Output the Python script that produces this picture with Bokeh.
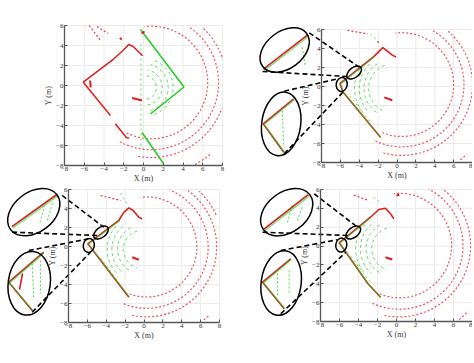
import math
from bokeh.plotting import figure
from bokeh.models import LinearAxis, FixedTicker
from bokeh.layouts import column, row
from bokeh.embed import file_html
from bokeh.resources import INLINE

nan = float("nan")

X_TICKS = [-8, -6, -4, -2, 0, 2, 4, 6, 8]
Y_TICKS = [-8, -6, -4, -2, 0, 2, 4, 6]
X_LABEL = "X (m)"
Y_LABEL = "Y (m)"

# ---------------- Panel 1 (scan before matching) ----------------
P1_RED_X = [-0.1, -0.3, -1.05, -1.5, -2.0, -3.0, -6.1, -3.35, nan, -2.85, -1.72, -1.45]
P1_RED_Y = [2.97, 3.17, 3.9, 4.1, 3.57, 2.67, 0.33, -3.0, nan, -3.83, -5.23, -5.25]
P1_GREEN_X = [-0.3, 4.1, 0.7, nan, -0.15, 2.05]
P1_GREEN_Y = [5.6, -0.15, -2.85, nan, -4.7, -7.85]
P1_RSEG_X0 = [-5.4, -1.15, -2.4, -0.2]
P1_RSEG_Y0 = [0.5, -1.25, 4.75, 5.2]
P1_RSEG_X1 = [-5.35, -0.15, -2.2, 0.1]
P1_RSEG_Y1 = [-0.2, -1.5, 4.6, 5.4]
P1_RDOT_X0 = [-5.5, -4.7]
P1_RDOT_Y0 = [6.0, 5.9]
P1_RDOT_X1 = [-4.35, -3.6]
P1_RDOT_Y1 = [4.5, 5.2]
P1_GDOT_X0 = [-0.25]
P1_GDOT_Y0 = [-6.0]
P1_GDOT_X1 = [-0.25]
P1_GDOT_Y1 = [4.5]
P1_ARC_CX = [0.8, 0.8, 0.8, 0.8, 0.8]
P1_ARC_CY = [0.3, 0.3, 0.3, 0.3, 0.3]
P1_ARC_R = [5.7, 6.8, 7.6, 7.6, 9.4]
P1_ARC_A0 = [-116, -118, -100, 20, -62]
P1_ARC_A1 = [97, 56, -20, 47, -50]
P1_GARC_CX = [0.1, 0.1, 0.1, 0.1]
P1_GARC_CY = [-0.2, -0.2, -0.2, -0.2]
P1_GARC_R = [1.2, 1.8, 2.4, 2.9]
P1_GARC_A0 = [-80, -80, -75, -70]
P1_GARC_A1 = [80, 80, 75, 70]

# ---------------- Panel 2 ----------------
P2_RED_X = [-0.1, -0.5, -1.5, -1.9, -2.4, -6.05, -5.7, -3.2, -1.75]
P2_RED_Y = [3.1, 3.3, 4.1, 3.7, 3.2, 0.3, -0.6, -3.6, -5.35]
P2_GREEN_X = [-2.35, -6.0, -5.65, -3.15, -1.7]
P2_GREEN_Y = [3.15, 0.25, -0.65, -3.65, -5.4]
P2_RSEG_X0 = [-1.35]
P2_RSEG_Y0 = [-1.15]
P2_RSEG_X1 = [-0.5]
P2_RSEG_Y1 = [-1.45]
P2_RDOT_X0 = [-5.25, -2.1]
P2_RDOT_Y0 = [5.9, 4.75]
P2_RDOT_X1 = [-3.1, -1.8]
P2_RDOT_Y1 = [5.55, 4.5]
P2_GDOT_X0 = [-2.8, -5.0]
P2_GDOT_Y0 = [5.5, -1.0]
P2_GDOT_X1 = [-1.8, -2.7]
P2_GDOT_Y1 = [4.6, -3.9]
P2_ARC_CX = [0.5, 0.5, 0.5, 0.5]
P2_ARC_CY = [0.2, 0.2, 0.2, 0.2]
P2_ARC_R = [5.5, 6.6, 7.5, 10.1]
P2_ARC_A0 = [-112, -115, -105, -52]
P2_ARC_A1 = [97, 60, 50, -47]
P2_GARC_CX = [-0.4, -0.4, -0.4, -0.4]
P2_GARC_CY = [-0.2, -0.2, -0.2, -0.2]
P2_GARC_R = [2.6, 3.1, 3.6, 4.1]
P2_GARC_A0 = [110, 123, 134, 141]
P2_GARC_A1 = [250, 237, 226, 219]
P2_ELL_X = [-11.9, -12.27, -4.54, -5.86]
P2_ELL_Y = [3.84, -3.93, 1.47, 0.21]
P2_DASH_X0 = [-9.30, -14.25, -11.95, -11.95]
P2_DASH_Y0 = [5.65, 1.58, -0.49, -7.08]
P2_DASH_X1 = [-4.0, -5.25, -6.3, -5.56]
P2_DASH_Y1 = [2.03, 1.05, 0.81, -0.42]
P2_IN_RED_X = [-14.15, -9.43, nan, -10.94, -14.18, -12.0]
P2_IN_RED_Y = [1.84, 5.47, nan, -1.3, -3.93, -6.92]
P2_IN_GREEN_X = [-14.05, -9.33, nan, -10.9, -14.08, -11.9]
P2_IN_GREEN_Y = [1.69, 5.32, nan, -1.4, -4.0, -6.95]
P2_IN_GDOT_X0 = [-10.05, -12.16]
P2_IN_GDOT_Y0 = [4.14, -2.53]
P2_IN_GDOT_X1 = [-9.7, -11.99]
P2_IN_GDOT_Y1 = [2.03, -6.39]

# ---------------- Panel 3 ----------------
P3_RED_X = [-0.2, -0.55, -1.15, -1.6, -2.14, -2.67, -5.95, -1.6]
P3_RED_Y = [2.9, 3.09, 3.79, 4.07, 3.6, 2.74, 0.28, -5.34]
P3_GREEN_X = [-2.6, -5.9, -1.55]
P3_GREEN_Y = [2.7, 0.23, -5.3]
P3_RSEG_X0 = [-1.25]
P3_RSEG_Y0 = [-1.13]
P3_RSEG_X1 = [-0.55]
P3_RSEG_Y1 = [-1.4]
P3_RDOT_X0 = [-4.6]
P3_RDOT_Y0 = [5.37]
P3_RDOT_X1 = [-2.5]
P3_RDOT_Y1 = [4.84]
P3_GDOT_X0 = [-2.5, -4.6]
P3_GDOT_Y0 = [5.6, -1.2]
P3_GDOT_X1 = [-1.8, -2.6]
P3_GDOT_Y1 = [4.5, -3.9]
P3_ARC_CX = [0.3, 0.3, 0.3, 0.3, 0.3]
P3_ARC_CY = [-0.05, -0.05, -0.05, -0.05, -0.05]
P3_ARC_R = [5.3, 6.5, 7.4, 8.1, 9.8]
P3_ARC_A0 = [-110, -112, -102, 25, -52]
P3_ARC_A1 = [97, 68, 54, 47, -47]
P3_GARC_CX = [-0.2, -0.2, -0.2, -0.2]
P3_GARC_CY = [-0.3, -0.3, -0.3, -0.3]
P3_GARC_R = [2.0, 2.6, 3.2, 3.7]
P3_GARC_A0 = [105, 118, 130, 138]
P3_GARC_A1 = [255, 242, 230, 222]
P3_ELL_X = [-11.68, -12.16, -4.56, -5.85]
P3_ELL_Y = [3.61, -3.87, 1.47, 0.11]
P3_DASH_X0 = [-8.67, -13.97, -12.21, -11.85]
P3_DASH_Y0 = [5.37, 1.51, -0.42, -6.92]
P3_DASH_X1 = [-4.26, -4.96, -5.85, -5.67]
P3_DASH_Y1 = [2.03, 1.16, 0.81, -0.6]
P3_IN_RED_X = [-14.0, -9.2, nan, -10.62, -14.33, -11.85, nan, -13.19, -12.87]
P3_IN_RED_Y = [2.1, 5.5, nan, -0.6, -3.76, -6.74, nan, -4.53, -2.84]
P3_IN_GREEN_X = [-13.9, -9.1, nan, -10.6, -14.25, -11.75]
P3_IN_GREEN_Y = [1.95, 5.35, nan, -0.7, -3.83, -6.76]
P3_IN_GDOT_X0 = [-11.02, -10.23, -11.85, -10.97]
P3_IN_GDOT_Y0 = [2.53, 2.74, -1.79, -1.47]
P3_IN_GDOT_X1 = [-10.54, -9.7, -11.68, -10.97]
P3_IN_GDOT_Y1 = [4.32, 4.63, -5.37, -4.95]

# ---------------- Panel 4 ----------------
P4_RED_X = [-0.28, -0.63, -1.16, -1.86, -2.74, -6.03, -3.0, -1.68]
P4_RED_Y = [2.9, 3.42, 4.02, 3.88, 3.06, 0.35, -4.0, -5.42]
P4_GREEN_X = [-2.7, -5.98, -2.95, -1.63]
P4_GREEN_Y = [3.0, 0.3, -4.05, -5.45]
P4_RSEG_X0 = [-1.16, 0.0]
P4_RSEG_Y0 = [-1.18, 5.36]
P4_RSEG_X1 = [-0.45, 0.3]
P4_RSEG_Y1 = [-1.42, 5.45]
P4_RDOT_X0 = [-4.5]
P4_RDOT_Y0 = [5.4]
P4_RDOT_X1 = [-3.1]
P4_RDOT_Y1 = [4.9]
P4_GDOT_X0 = [-2.4, -4.8]
P4_GDOT_Y0 = [5.15, -1.1]
P4_GDOT_X1 = [-1.5, -2.7]
P4_GDOT_Y1 = [4.5, -3.9]
P4_ARC_CX = [0.3, 0.3, 0.3, 0.3]
P4_ARC_CY = [0.05, 0.05, 0.05, 0.05]
P4_ARC_R = [5.5, 6.7, 7.5, 10.0]
P4_ARC_A0 = [-112, -115, -102, -51]
P4_ARC_A1 = [96, 62, 52, -45]
P4_GARC_CX = [-0.3, -0.3, -0.3, -0.3]
P4_GARC_CY = [-0.3, -0.3, -0.3, -0.3]
P4_GARC_R = [2.3, 2.9, 3.5, 4.0]
P4_GARC_A0 = [108, 120, 132, 140]
P4_GARC_A1 = [252, 240, 228, 220]
P4_ELL_X = [-11.56, -12.14, -4.55, -5.81]
P4_ELL_Y = [3.59, -3.92, 1.44, 0.11]
P4_DASH_X0 = [-8.66, -14.1, -12.18, -12.18]
P4_DASH_Y0 = [5.54, 1.47, -0.47, -7.18]
P4_DASH_X1 = [-4.1, -4.98, -6.21, -5.34]
P4_DASH_Y1 = [2.0, 1.12, 0.67, -0.65]
P4_IN_RED_X = [-13.95, -9.3, nan, -11.13, -14.1, -11.82]
P4_IN_RED_Y = [1.8, 5.45, nan, -1.35, -3.83, -6.65]
P4_IN_GREEN_X = [-13.85, -9.2, nan, -11.1, -14.0, -11.72]
P4_IN_GREEN_Y = [1.65, 5.3, nan, -1.45, -3.9, -6.68]
P4_IN_GDOT_X0 = [-11.47, -10.42, -12.53, -11.3]
P4_IN_GDOT_Y0 = [2.5, 2.71, -2.9, -2.59]
P4_IN_GDOT_X1 = [-10.95, -9.89, -12.53, -11.3]
P4_IN_GDOT_Y1 = [4.51, 4.3, -5.42, -5.06]

# ---------------- layout / style (not data) ----------------
# figure size and axes box (left, right, top, bottom) in figure pixels
TOP_H = 183
BOT_H = 179
LAYOUT = [
    (240, TOP_H, (64, 222, 25, 165)),
    (232, TOP_H, (81, 232, 29, 162)),
    (240, BOT_H, (68, 219, 6, 139)),
    (232, BOT_H, (80, 232, 6, 138)),
]
ELL_W = [[55, 39, 17, 11], [58, 42, 17, 11], [58, 40, 17, 11]]
ELL_H = [[37, 64, 10, 14], [40, 64, 10, 14], [40, 65, 10, 14]]
ELL_ANG = [37, -8, 38, -10]

RED = "#dc1e1e"
ARC_RED = "#e23a46"
GREEN = "#22cc22"
FONT = "Liberation Serif"
TXT = "#333333"


def rad(vals):
    return [math.radians(v) for v in vals]


def make_panel(idx, d, overlap):
    fw, fh, (bl, br, bt, bb) = LAYOUT[idx]
    sx = (br - bl) / 16.0
    sy = (bb - bt) / 14.0
    xr = (-8 - bl / sx, 8 + (fw - br) / sx)
    yr = (-8 - (fh - bb) / sy, 6 + bt / sy)
    p = figure(width=fw, height=fh, x_range=xr, y_range=yr,
               x_axis_type=None, y_axis_type=None, title=None,
               toolbar_location=None, output_backend="svg", min_border=0)
    p.outline_line_color = None
    p.background_fill_color = "white"
    p.border_fill_color = "white"

    # grid lines inside the axes box
    p.segment(x0=X_TICKS, y0=[Y_TICKS[0]] * len(X_TICKS), x1=X_TICKS, y1=[Y_TICKS[-1]] * len(X_TICKS),
              line_color="#ebebeb", line_width=1)
    p.segment(x0=[X_TICKS[0]] * len(Y_TICKS), y0=Y_TICKS, x1=[X_TICKS[-1]] * len(Y_TICKS), y1=Y_TICKS,
              line_color="#ebebeb", line_width=1)

    # red dotted scan rings
    p.arc(x=d["arc_cx"], y=d["arc_cy"], radius=d["arc_r"], start_angle=rad(d["arc_a0"]),
          end_angle=rad(d["arc_a1"]), direction="anticlock", line_color=ARC_RED,
          line_width=1.2, line_dash="2 2", line_alpha=0.85)
    # green dotted arcs
    p.arc(x=d["garc_cx"], y=d["garc_cy"], radius=d["garc_r"], start_angle=rad(d["garc_a0"]),
          end_angle=rad(d["garc_a1"]), direction="anticlock", line_color=GREEN,
          line_width=1.0, line_dash="3 3", line_alpha=0.7)
    p.segment(x0=d["rdot"][0], y0=d["rdot"][1], x1=d["rdot"][2], y1=d["rdot"][3],
              line_color=ARC_RED, line_width=1.2, line_dash="2 2")
    p.segment(x0=d["gdot"][0], y0=d["gdot"][1], x1=d["gdot"][2], y1=d["gdot"][3],
              line_color=GREEN, line_width=1.0, line_dash="2 3", line_alpha=0.7)

    # walls
    if overlap:
        p.line(d["red_x"], d["red_y"], line_color=RED, line_width=1.6)
        p.line(d["green_x"], d["green_y"], line_color=GREEN, line_width=1.4, line_alpha=0.55)
    else:
        p.line(d["red_x"], d["red_y"], line_color=RED, line_width=1.5)
        p.line(d["green_x"], d["green_y"], line_color=GREEN, line_width=1.5)
    p.segment(x0=d["rseg"][0], y0=d["rseg"][1], x1=d["rseg"][2], y1=d["rseg"][3],
              line_color=RED, line_width=2)

    # zoom insets
    if "ell_x" in d:
        k = idx - 1
        p.line(d["in_red_x"], d["in_red_y"], line_color=RED, line_width=1.6)
        p.line(d["in_green_x"], d["in_green_y"], line_color=GREEN, line_width=1.4, line_alpha=0.6)
        p.segment(x0=d["in_gdot"][0], y0=d["in_gdot"][1], x1=d["in_gdot"][2], y1=d["in_gdot"][3],
                  line_color=GREEN, line_width=1, line_dash="2 2", line_alpha=0.8)
        p.segment(x0=d["dash"][0], y0=d["dash"][1], x1=d["dash"][2], y1=d["dash"][3],
                  line_color="black", line_width=1.6, line_dash="5 3")
        p.ellipse(x=d["ell_x"], y=d["ell_y"], width=ELL_W[k], height=ELL_H[k],
                  angle=rad(ELL_ANG), width_units="screen", height_units="screen",
                  fill_color=None, line_color="black", line_width=1.5)

    # axes at the box edges
    xa = LinearAxis(fixed_location=Y_TICKS[0], bounds=(X_TICKS[0], X_TICKS[-1]),
                    ticker=FixedTicker(ticks=X_TICKS), axis_label=X_LABEL)
    ya = LinearAxis(fixed_location=X_TICKS[0], bounds=(Y_TICKS[0], Y_TICKS[-1]),
                    ticker=FixedTicker(ticks=Y_TICKS), axis_label=Y_LABEL)
    for ax in (xa, ya):
        ax.axis_line_color = "#555555"
        ax.axis_line_width = 1.3
        ax.major_tick_in = 3
        ax.major_tick_out = 0
        ax.major_tick_line_color = "#555555"
        ax.minor_tick_line_color = None
        ax.major_label_text_font = FONT
        ax.major_label_text_font_size = "7px"
        ax.major_label_text_color = TXT
        ax.axis_label_text_font = FONT
        ax.axis_label_text_font_size = "8px"
        ax.axis_label_text_font_style = "normal"
        ax.axis_label_text_color = TXT
        ax.major_label_standoff = 1
        ax.axis_label_standoff = 0
    p.add_layout(xa, "below")
    p.add_layout(ya, "left")
    return p


def pack(n):
    g = globals()
    d = {
        "red_x": g[f"P{n}_RED_X"], "red_y": g[f"P{n}_RED_Y"],
        "green_x": g[f"P{n}_GREEN_X"], "green_y": g[f"P{n}_GREEN_Y"],
        "rseg": (g[f"P{n}_RSEG_X0"], g[f"P{n}_RSEG_Y0"], g[f"P{n}_RSEG_X1"], g[f"P{n}_RSEG_Y1"]),
        "rdot": (g[f"P{n}_RDOT_X0"], g[f"P{n}_RDOT_Y0"], g[f"P{n}_RDOT_X1"], g[f"P{n}_RDOT_Y1"]),
        "gdot": (g[f"P{n}_GDOT_X0"], g[f"P{n}_GDOT_Y0"], g[f"P{n}_GDOT_X1"], g[f"P{n}_GDOT_Y1"]),
        "arc_cx": g[f"P{n}_ARC_CX"], "arc_cy": g[f"P{n}_ARC_CY"], "arc_r": g[f"P{n}_ARC_R"],
        "arc_a0": g[f"P{n}_ARC_A0"], "arc_a1": g[f"P{n}_ARC_A1"],
        "garc_cx": g[f"P{n}_GARC_CX"], "garc_cy": g[f"P{n}_GARC_CY"], "garc_r": g[f"P{n}_GARC_R"],
        "garc_a0": g[f"P{n}_GARC_A0"], "garc_a1": g[f"P{n}_GARC_A1"],
    }
    if f"P{n}_ELL_X" in g:
        d.update({
            "ell_x": g[f"P{n}_ELL_X"], "ell_y": g[f"P{n}_ELL_Y"],
            "dash": (g[f"P{n}_DASH_X0"], g[f"P{n}_DASH_Y0"], g[f"P{n}_DASH_X1"], g[f"P{n}_DASH_Y1"]),
            "in_red_x": g[f"P{n}_IN_RED_X"], "in_red_y": g[f"P{n}_IN_RED_Y"],
            "in_green_x": g[f"P{n}_IN_GREEN_X"], "in_green_y": g[f"P{n}_IN_GREEN_Y"],
            "in_gdot": (g[f"P{n}_IN_GDOT_X0"], g[f"P{n}_IN_GDOT_Y0"], g[f"P{n}_IN_GDOT_X1"], g[f"P{n}_IN_GDOT_Y1"]),
        })
    return d


p1 = make_panel(0, pack(1), overlap=False)
p2 = make_panel(1, pack(2), overlap=True)
p3 = make_panel(2, pack(3), overlap=True)
p4 = make_panel(3, pack(4), overlap=True)

layout = column(row(p1, p2), row(p3, p4))
open("out.html", "w").write(file_html(layout, INLINE))
